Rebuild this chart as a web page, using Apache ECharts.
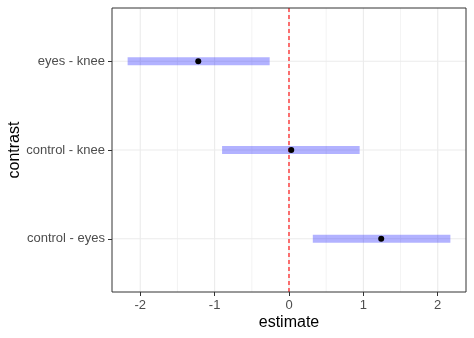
<!DOCTYPE html>
<html>
<head>
<meta charset="utf-8">
<script src="https://cdn.jsdelivr.net/npm/echarts@6/dist/echarts.min.js"></script>
<style>html,body{margin:0;padding:0;background:#fff}#c{width:474px;height:338px}</style>
</head>
<body>
<div id="c"></div>
<script>
// Data (rows listed bottom to top)
var contrasts = ["control - eyes", "control - knee", "eyes - knee"];
var estimates = [1.24, 0.03, -1.22];
var lowers = [0.32, -0.90, -2.17];
var uppers = [2.17, 0.95, -0.26];
var xTicks = [-2, -1, 0, 1, 2];
var xMinor = [-1.5, -0.5, 0.5, 1.5];
var yTicks = [1, 2, 3];
var refLine = 0;

var FONT = "'Liberation Sans', Arial, Helvetica, sans-serif";
var chart = echarts.init(document.getElementById('c'), null, {renderer: 'canvas'});

// grid line items: [value, orientation(0 = vertical, 1 = horizontal), width]
var gridData = [];
xTicks.forEach(function (v) { gridData.push([v, 0, 1.1]); });
xMinor.forEach(function (v) { gridData.push([v, 0, 0.6]); });
yTicks.forEach(function (v) { gridData.push([v, 1, 1.1]); });

var barData = contrasts.map(function (c, i) { return [lowers[i], uppers[i], i + 1]; });
var ptData = contrasts.map(function (c, i) { return [estimates[i], i + 1]; });

function lineItem(params, api, value, orient, width, style) {
  var cs = params.coordSys;
  var x1, y1, x2, y2;
  if (orient === 0) {
    var p = api.coord([value, 2]);
    x1 = x2 = p[0]; y1 = cs.y; y2 = cs.y + cs.height;
  } else {
    var q = api.coord([0, value]);
    y1 = y2 = q[1]; x1 = cs.x; x2 = cs.x + cs.width;
  }
  return {type: 'line', shape: {x1: x1, y1: y1, x2: x2, y2: y2}, style: style};
}

chart.setOption({
  animation: false,
  textStyle: {fontFamily: FONT},
  grid: {left: 112, right: 8, top: 8, bottom: 46, containLabel: false, outerBoundsMode: 'none',
    show: true, borderColor: '#333333', borderWidth: 1, backgroundColor: 'transparent', z: 10},
  xAxis: {
    type: 'value', min: -2.38, max: 2.38,
    name: 'estimate', nameLocation: 'middle', nameGap: 23, nameMoveOverlap: false,
    nameTextStyle: {color: '#000', fontSize: 16, fontFamily: FONT},
    axisLine: {show: false, onZero: false},
    splitLine: {show: false},
    axisTick: {show: true, customValues: xTicks, length: 4, lineStyle: {color: '#333333', width: 1}},
    axisLabel: {customValues: xTicks, color: '#4d4d4d', fontSize: 13, margin: 7, fontFamily: FONT,
      formatter: function (v) { return String(v); }}
  },
  yAxis: {
    type: 'value', min: 0.4, max: 3.6,
    name: 'contrast', nameLocation: 'middle', nameGap: 89, nameRotate: 90, nameMoveOverlap: false,
    nameTextStyle: {color: '#000', fontSize: 16, fontFamily: FONT},
    axisLine: {show: false, onZero: false},
    splitLine: {show: false},
    axisTick: {show: true, customValues: yTicks, length: 4, lineStyle: {color: '#333333', width: 1}},
    axisLabel: {customValues: yTicks, color: '#4d4d4d', fontSize: 13, margin: 7, fontFamily: FONT,
      formatter: function (v) { var i = Math.round(v) - 1; return contrasts[i] || ''; }}
  },
  series: [
    {
      type: 'custom', z: 1, silent: true, clip: true,
      data: gridData,
      renderItem: function (params, api) {
        return lineItem(params, api, api.value(0), api.value(1), api.value(2),
          {stroke: '#ebebeb', lineWidth: api.value(2)});
      }
    },
    {
      type: 'custom', z: 2, silent: true,
      data: barData,
      renderItem: function (params, api) {
        var a = api.coord([api.value(0), api.value(2)]);
        var b = api.coord([api.value(1), api.value(2)]);
        var h = 8;
        return {type: 'rect', shape: {x: a[0], y: a[1] - h / 2, width: b[0] - a[0], height: h},
          style: {fill: 'rgba(0,0,255,0.3)'}};
      },
      encode: {x: [0, 1], y: 2}
    },
    {
      type: 'custom', z: 3, silent: true,
      data: [[refLine]],
      renderItem: function (params, api) {
        return lineItem(params, api, api.value(0), 0, 1.1,
          {stroke: '#ff0000', lineWidth: 1.1, lineDash: [4, 3]});
      }
    },
    {
      type: 'scatter', z: 4, data: ptData, symbol: 'circle', symbolSize: 6,
      itemStyle: {color: '#000000', opacity: 1}
    }
  ]
});
</script>
</body>
</html>
